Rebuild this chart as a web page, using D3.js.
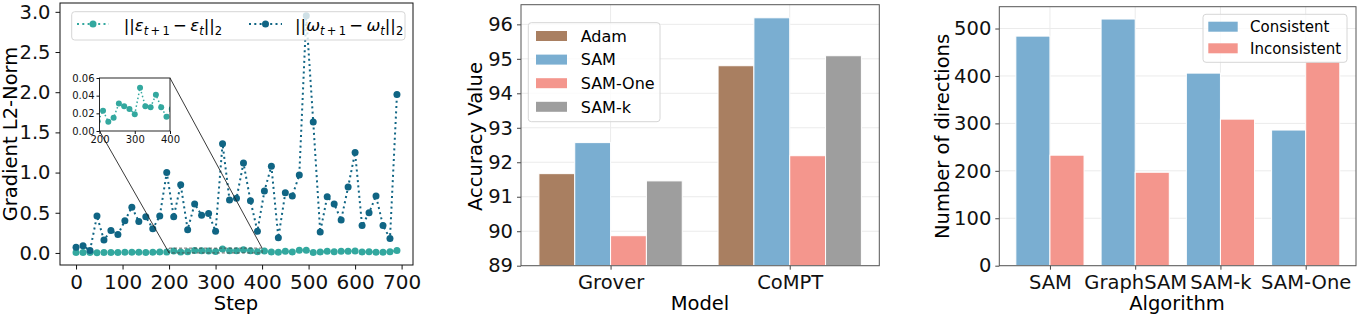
<!DOCTYPE html>
<html>
<head>
<meta charset="utf-8">
<script src="https://cdn.jsdelivr.net/npm/d3@7"></script>
<style>
  body { margin: 0; background: #fff; }
  text { font-family: "DejaVu Sans", sans-serif; }
</style>
</head>
<body>
<svg id="fig" width="1359" height="315"></svg>
<script>
// ---- left panel: gradient norms per step
const steps = [0, 15, 30, 45, 60, 75, 90, 105, 120, 135, 150, 165, 180, 195, 210, 225,
  240, 255, 270, 285, 300, 315, 330, 345, 360, 375, 390, 405, 420, 435, 450, 465,
  480, 495, 510, 525, 540, 555, 570, 585, 600, 615, 630, 645, 660, 675, 690];
const epsNorm = [0.005, 0.004, 0.006, 0.003, 0.004, 0.005, 0.006, 0.008, 0.009, 0.008,
  0.007, 0.009, 0.012, 0.011, 0.023, 0.0105, 0.015, 0.031, 0.028, 0.025, 0.019, 0.049,
  0.028, 0.027, 0.041, 0.027, 0.016, 0.025, 0.012, 0.010, 0.020, 0.012, 0.035, 0.035,
  0.005, 0.012, 0.022, 0.015, 0.020, 0.022, 0.024, 0.012, 0.014, 0.010, 0.008, 0.015, 0.030];
const omegaNorm = [0.07, 0.09, 0.03, 0.46, 0.16, 0.28, 0.23, 0.40, 0.57, 0.39, 0.45, 0.30,
  0.46, 1.00, 0.45, 0.85, 0.29, 0.61, 0.47, 0.49, 0.27, 1.36, 0.66, 0.68, 1.12, 0.65, 0.27,
  0.77, 1.08, 0.19, 0.75, 0.71, 0.97, 2.95, 1.63, 0.26, 0.70, 0.61, 0.41, 0.82, 1.25, 0.34,
  0.50, 0.71, 0.34, 0.18, 1.97];
const stepTicks = [0, 100, 200, 300, 400, 500, 600, 700];
const normTicks = [0, 0.5, 1, 1.5, 2, 2.5, 3];
const insetXTicks = [200, 300, 400];
const insetYTicks = [0, 0.02, 0.04, 0.06];

// ---- middle panel: accuracy per model
const models = ['Grover', 'CoMPT'];
const optimizers = ['Adam', 'SAM', 'SAM-One', 'SAM-k'];
const accAdam = [91.67, 94.80];
const accSAM = [92.57, 96.19];
const accSAMOne = [89.87, 92.19];
const accSAMk = [91.46, 95.09];
const accTicks = [89, 90, 91, 92, 93, 94, 95, 96];

// ---- right panel: directions per algorithm
const algorithms = ['SAM', 'GraphSAM', 'SAM-k', 'SAM-One'];
const dirKinds = ['Consistent', 'Inconsistent'];
const consistentDirs = [484, 520, 406, 286];
const inconsistentDirs = [233, 197, 309, 430];
const dirTicks = [0, 100, 200, 300, 400, 500];

const svg = d3.select('#fig');
svg.append('rect').attr('width', 1359).attr('height', 315).attr('fill', '#fff');

const FS = 19.5;
const epsColor = '#33a89f';
const omegaColor = '#106584';

function styleAxis(g, fs, color) {
  g.select('.domain').remove();
  g.selectAll('.tick line').attr('stroke', color).attr('stroke-width', 1);
  g.selectAll('.tick text').attr('fill', '#111').style('font-size', fs + 'px')
    .style('font-family', '"DejaVu Sans", sans-serif');
}

function legendBox(parent, x, y, w, h) {
  parent.append('rect').attr('x', x).attr('y', y).attr('width', w).attr('height', h)
    .attr('rx', 3).attr('fill', '#fff').attr('fill-opacity', 0.8)
    .attr('stroke', '#d6d6d6').attr('stroke-width', 1);
}

// =================== LEFT PANEL ===================
{
  const box = {left: 60, right: 413, top: 3, bottom: 265};
  const x = d3.scaleLinear().domain([-34.5, 724.5]).range([box.left, box.right]);
  const y = d3.scaleLinear().domain([-0.15, 3.11]).range([box.bottom, box.top]);
  const g = svg.append('g');

  svg.append('clipPath').attr('id', 'clipMain').append('rect')
    .attr('x', box.left).attr('y', box.top)
    .attr('width', box.right - box.left).attr('height', box.bottom - box.top);

  const pts = steps.map((s, i) => ({s, e: epsNorm[i], w: omegaNorm[i]}));
  const plot = g.append('g').attr('clip-path', 'url(#clipMain)');

  const drawSeries = (key, color) => {
    const line = d3.line().x(d => x(d.s)).y(d => y(d[key]));
    plot.append('path').attr('d', line(pts)).attr('fill', 'none')
      .attr('stroke', color).attr('stroke-width', 2).attr('stroke-dasharray', '2,3.3');
    plot.selectAll(null).data(pts).join('circle')
      .attr('cx', d => x(d.s)).attr('cy', d => y(d[key])).attr('r', 3.5)
      .attr('fill', color);
  };
  drawSeries('e', epsColor);
  drawSeries('w', omegaColor);

  // axes
  const xa = g.append('g').attr('transform', `translate(0,${box.bottom})`)
    .call(d3.axisBottom(x).tickValues(stepTicks).tickSize(4.5).tickPadding(5).tickFormat(d3.format('d')));
  styleAxis(xa, 20, '#111');
  const ya = g.append('g').attr('transform', `translate(${box.left},0)`)
    .call(d3.axisLeft(y).tickValues(normTicks).tickSize(4.5).tickPadding(5).tickFormat(d3.format('.1f')));
  styleAxis(ya, FS, '#111');
  g.append('rect').attr('x', box.left).attr('y', box.top)
    .attr('width', box.right - box.left).attr('height', box.bottom - box.top)
    .attr('fill', 'none').attr('stroke', '#111').attr('stroke-width', 1);

  // zoom indicator rectangle + connectors
  const ix0 = x(insetXTicks[0]), ix1 = x(insetXTicks[2]);
  const iy0 = y(insetYTicks[0]), iy1 = y(insetYTicks[3]);
  g.append('rect').attr('x', ix0).attr('y', iy1).attr('width', ix1 - ix0).attr('height', iy0 - iy1)
    .attr('fill', 'none').attr('stroke', '#444').attr('stroke-width', 0.8).attr('stroke-dasharray', '3,2');

  const inset = {left: 99.5, right: 170, top: 78, bottom: 131};
  g.append('line').attr('x1', inset.left).attr('y1', inset.bottom).attr('x2', ix0).attr('y2', iy0)
    .attr('stroke', '#222').attr('stroke-width', 0.9);
  g.append('line').attr('x1', inset.right).attr('y1', inset.top).attr('x2', ix1).attr('y2', iy1)
    .attr('stroke', '#222').attr('stroke-width', 0.9);

  // inset
  const xi = d3.scaleLinear().domain([200, 400]).range([inset.left, inset.right]);
  const yi = d3.scaleLinear().domain([0, 0.06]).range([inset.bottom, inset.top]);
  const gi = g.append('g');
  gi.append('rect').attr('x', inset.left).attr('y', inset.top)
    .attr('width', inset.right - inset.left).attr('height', inset.bottom - inset.top).attr('fill', '#fff');
  svg.append('clipPath').attr('id', 'clipInset').append('rect')
    .attr('x', inset.left).attr('y', inset.top)
    .attr('width', inset.right - inset.left).attr('height', inset.bottom - inset.top);
  const ip = gi.append('g').attr('clip-path', 'url(#clipInset)');
  ip.append('path').attr('d', d3.line().x(d => xi(d.s)).y(d => yi(d.e))(pts))
    .attr('fill', 'none').attr('stroke', epsColor).attr('stroke-width', 1.5).attr('stroke-dasharray', '1.5,2.5');
  ip.selectAll(null).data(pts).join('circle')
    .attr('cx', d => xi(d.s)).attr('cy', d => yi(d.e)).attr('r', 3).attr('fill', epsColor);
  const xia = gi.append('g').attr('transform', `translate(0,${inset.bottom})`)
    .call(d3.axisBottom(xi).tickValues(insetXTicks).tickSize(3).tickPadding(2).tickFormat(d3.format('d')));
  styleAxis(xia, 10, '#111');
  const yia = gi.append('g').attr('transform', `translate(${inset.left},0)`)
    .call(d3.axisLeft(yi).tickValues(insetYTicks).tickSize(3).tickPadding(2).tickFormat(d3.format('.2f')));
  styleAxis(yia, 10, '#111');
  gi.append('rect').attr('x', inset.left).attr('y', inset.top)
    .attr('width', inset.right - inset.left).attr('height', inset.bottom - inset.top)
    .attr('fill', 'none').attr('stroke', '#111').attr('stroke-width', 0.9);

  // labels
  g.append('text').attr('x', 236).attr('y', 309.5)
    .attr('text-anchor', 'middle').style('font-size', FS + 'px').text('Step');
  g.append('text').attr('transform', 'rotate(-90)').attr('x', -134).attr('y', 17)
    .attr('text-anchor', 'middle').style('font-size', FS + 'px').text('Gradient L2-Norm');

  // legend
  legendBox(g, 71.7, 11.7, 333.3, 28.3);
  const entries = [
    {sym: 'ε', color: epsColor, x0: 77, x1: 109, tx: 123.7},
    {sym: 'ω', color: omegaColor, x0: 249, x1: 282, tx: 295}
  ];
  const thin = '\u2009';
  entries.forEach(en => {
    const ly = 24;
    g.append('line').attr('x1', en.x0).attr('x2', en.x1).attr('y1', ly).attr('y2', ly)
      .attr('stroke', en.color).attr('stroke-width', 2).attr('stroke-dasharray', '2,3.3');
    g.append('circle').attr('cx', (en.x0 + en.x1) / 2).attr('cy', ly).attr('r', 3.5).attr('fill', en.color);
    const t = g.append('text').attr('x', en.tx).attr('y', 31).style('font-size', '16.5px');
    t.append('tspan').text('||');
    t.append('tspan').style('font-style', 'italic').text(en.sym);
    t.append('tspan').attr('dy', 4).style('font-size', '11.5px').style('font-style', 'italic').text('t');
    t.append('tspan').style('font-size', '11.5px').text(thin + '+' + thin + '1');
    t.append('tspan').attr('dy', -4).text(thin + '−' + thin);
    t.append('tspan').style('font-style', 'italic').text(en.sym);
    t.append('tspan').attr('dy', 4).style('font-size', '11.5px').style('font-style', 'italic').text('t');
    t.append('tspan').attr('dy', -4).text('||');
    t.append('tspan').attr('dy', 4).style('font-size', '11.5px').text('2');
  });
}

// =================== BAR PANELS ===================
function barPanel(cfg) {
  const {box, cats, series, colors, names, yDomain, yTicks, xDomain, barW, offsets} = cfg;
  const g = svg.append('g');
  const x = d3.scaleLinear().domain(xDomain).range([box.left, box.right]);
  const y = d3.scaleLinear().domain(yDomain).range([box.bottom, box.top]);
  const gridColor = '#ebebeb';

  g.selectAll(null).data(yTicks).join('line')
    .attr('x1', box.left).attr('x2', box.right).attr('y1', d => y(d)).attr('y2', d => y(d))
    .attr('stroke', gridColor).attr('stroke-width', 1);
  g.selectAll(null).data(cats).join('line')
    .attr('x1', (d, i) => x(i)).attr('x2', (d, i) => x(i)).attr('y1', box.top).attr('y2', box.bottom)
    .attr('stroke', gridColor).attr('stroke-width', 1);

  series.forEach((vals, si) => {
    g.selectAll(null).data(vals).join('rect')
      .attr('x', (d, i) => x(i + offsets[si] - barW / 2))
      .attr('width', x(barW) - x(0))
      .attr('y', d => y(d))
      .attr('height', d => y(yDomain[0]) - y(d))
      .attr('fill', colors[si]).attr('stroke', '#fff').attr('stroke-width', 1);
  });

  const xa = g.append('g').attr('transform', `translate(0,${box.bottom})`)
    .call(d3.axisBottom(x).tickValues(cats.map((c, i) => i)).tickFormat(i => cats[i])
      .tickSize(4).tickPadding(5));
  styleAxis(xa, FS, '#444');
  const ya = g.append('g').attr('transform', `translate(${box.left},0)`)
    .call(d3.axisLeft(y).tickValues(yTicks).tickSize(4).tickPadding(4).tickFormat(d3.format('d')));
  styleAxis(ya, FS, '#444');
  g.append('rect').attr('x', box.left).attr('y', box.top)
    .attr('width', box.right - box.left).attr('height', box.bottom - box.top)
    .attr('fill', 'none').attr('stroke', '#555').attr('stroke-width', 1);

  g.append('text').attr('x', cfg.xLabelX).attr('y', 309.5).attr('text-anchor', 'middle')
    .style('font-size', FS + 'px').text(cfg.xLabel);
  g.append('text').attr('transform', 'rotate(-90)').attr('x', -136.5).attr('y', cfg.yLabelY)
    .attr('text-anchor', 'middle').style('font-size', FS + 'px').text(cfg.yLabel);

  const L = cfg.legend;
  legendBox(g, L.x, L.y, L.w, L.h);
  names.forEach((n, i) => {
    const cy = L.first + i * L.step;
    g.append('rect').attr('x', L.px).attr('y', cy - 5).attr('width', L.pw).attr('height', 10)
      .attr('fill', colors[i]);
    g.append('text').attr('x', L.tx).attr('y', cy + L.fs * 0.36).style('font-size', L.fs + 'px').text(n);
  });
}

barPanel({
  box: {left: 521, right: 879.3, top: 4.7, bottom: 265.7},
  cats: models,
  series: [accAdam, accSAM, accSAMOne, accSAMk],
  colors: ['#a97f61', '#7aaed1', '#f4968d', '#9e9e9e'],
  names: optimizers,
  yDomain: [89, 96.57], yTicks: accTicks,
  xDomain: [-0.5, 1.5], barW: 0.2, offsets: [-0.3, -0.1, 0.1, 0.3],
  xLabel: 'Model', xLabelX: 700, yLabel: 'Accuracy Value', yLabelY: 482,
  legend: {x: 528.3, y: 22.7, w: 131.7, h: 99, first: 36, step: 23.6, px: 536, pw: 31, tx: 580.7, fs: 16}
});

barPanel({
  box: {left: 999.3, right: 1356, top: 6.7, bottom: 265.7},
  cats: algorithms,
  series: [consistentDirs, inconsistentDirs],
  colors: ['#7aaed1', '#f4968d'],
  names: dirKinds,
  yDomain: [0, 546], yTicks: dirTicks,
  xDomain: [-0.594, 3.59], barW: 0.4, offsets: [-0.2, 0.2],
  xLabel: 'Algorithm', xLabelX: 1177, yLabel: 'Number of directions', yLabelY: 949,
  legend: {x: 1203, y: 14.3, w: 144, h: 48, first: 26.7, step: 21.6, px: 1208.3, pw: 29.4, tx: 1250, fs: 15}
});
</script>
</body>
</html>
